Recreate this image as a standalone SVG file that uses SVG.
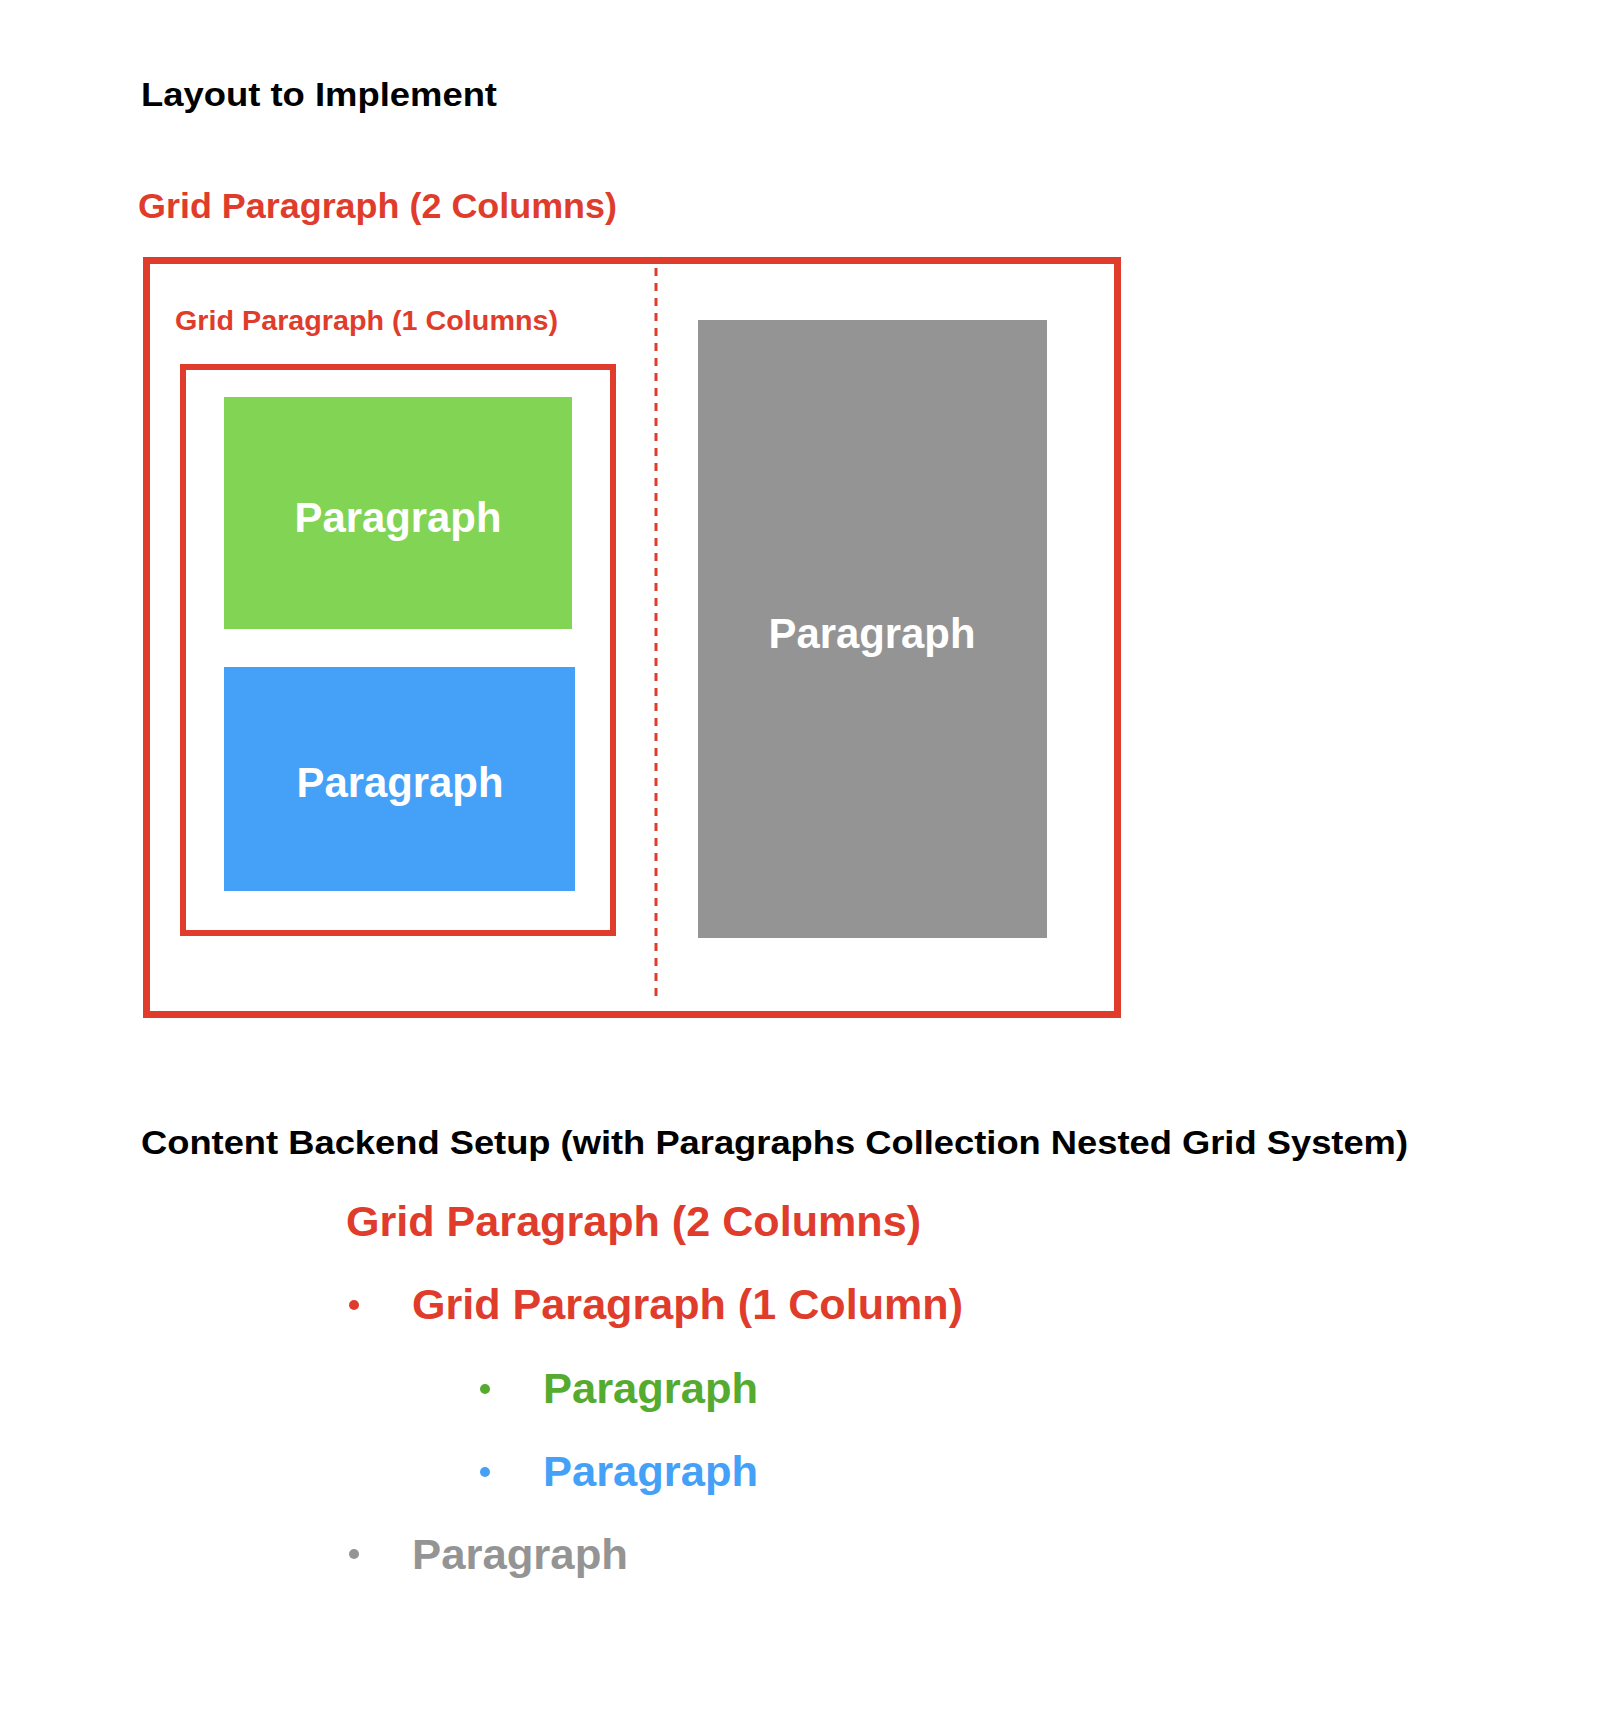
<svg xmlns="http://www.w3.org/2000/svg" width="1598" height="1730" viewBox="0 0 1598 1730">
<style>
text{font-family:"Liberation Sans",Arial,sans-serif;font-weight:bold}
.red{fill:#E03C2C}
.box{fill:none;stroke:#E03C2C}
.w{fill:#fff;font-size:42px;text-anchor:middle}
</style>
<rect width="1598" height="1730" fill="#fff"/>
<text x="141" y="106" font-size="33" textLength="356" lengthAdjust="spacingAndGlyphs">Layout to Implement</text>
<text class="red" x="138" y="218" font-size="35" textLength="479" lengthAdjust="spacingAndGlyphs">Grid Paragraph (2 Columns)</text>
<g id="outer"><rect class="box" x="146.5" y="260.5" width="971" height="754" stroke-width="7"/></g>
<g id="connectors"><line x1="656" y1="268" x2="656" y2="1000" stroke="#E03C2C" stroke-width="3" stroke-dasharray="8,7"/></g>
<text class="red" x="175" y="330" font-size="27" textLength="383" lengthAdjust="spacingAndGlyphs">Grid Paragraph (1 Columns)</text>
<g id="inner"><rect class="box" x="183" y="367" width="430" height="566" stroke-width="6"/></g>
<g id="green"><rect x="224" y="397" width="348" height="232" fill="#82D454"/><text class="w" x="398" y="532" textLength="207" lengthAdjust="spacingAndGlyphs">Paragraph</text></g>
<g id="blue"><rect x="224" y="667" width="351" height="224" fill="#45A1F7"/><text class="w" x="400" y="797" textLength="207" lengthAdjust="spacingAndGlyphs">Paragraph</text></g>
<g id="gray"><rect x="698" y="320" width="349" height="618" fill="#949494"/><text class="w" x="872" y="648" textLength="207" lengthAdjust="spacingAndGlyphs">Paragraph</text></g>
<text x="141" y="1154" font-size="33" textLength="1267" lengthAdjust="spacingAndGlyphs">Content Backend Setup (with Paragraphs Collection Nested Grid System)</text>
<g id="list" font-size="42">
<text class="red" x="346" y="1236" textLength="575" lengthAdjust="spacingAndGlyphs">Grid Paragraph (2 Columns)</text>
<circle cx="354" cy="1305" r="5" fill="#E03C2C"/>
<text class="red" x="412" y="1319" textLength="551" lengthAdjust="spacingAndGlyphs">Grid Paragraph (1 Column)</text>
<circle cx="485" cy="1389" r="5" fill="#55AA30"/>
<text fill="#55AA30" x="543" y="1403" textLength="215" lengthAdjust="spacingAndGlyphs">Paragraph</text>
<circle cx="485" cy="1472" r="5" fill="#45A1F7"/>
<text fill="#45A1F7" x="543" y="1486" textLength="215" lengthAdjust="spacingAndGlyphs">Paragraph</text>
<circle cx="354" cy="1554" r="5" fill="#949494"/>
<text fill="#949494" x="412" y="1569" textLength="216" lengthAdjust="spacingAndGlyphs">Paragraph</text>
</g>
</svg>
